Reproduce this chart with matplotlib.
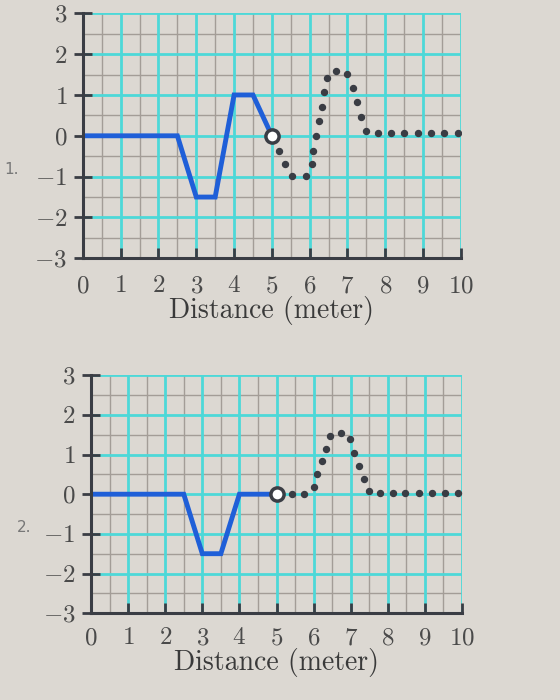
import numpy as np
import matplotlib.pyplot as plt

plt.rcParams['font.family'] = 'cmr10'
plt.rcParams['mathtext.fontset'] = 'cm'
plt.rcParams['axes.formatter.use_mathtext'] = True

# chart 1: solid pulse and dotted continuation
solid1_x = [0, 2.5, 3.0, 3.5, 4.0, 4.5, 5.0]
solid1_y = [0, 0, -1.5, -1.5, 1.0, 1.0, 0]
dots1_x = [5.2, 5.35, 5.54, 5.89, 6.05, 6.1, 6.17, 6.25, 6.32, 6.38, 6.45, 6.7,
           7.0, 7.14, 7.24, 7.35, 7.48, 7.8, 8.15, 8.5, 8.86, 9.21, 9.56, 9.93]
dots1_y = [-0.38, -0.69, -0.99, -0.99, -0.69, -0.37, 0.0, 0.37, 0.71, 1.08, 1.42, 1.59,
           1.51, 1.16, 0.82, 0.47, 0.12, 0.07, 0.07, 0.07, 0.07, 0.07, 0.07, 0.07]

# chart 2
solid2_x = [0, 2.5, 3.0, 3.5, 4.0, 5.0]
solid2_y = [0, 0, -1.5, -1.5, 0, 0]
dots2_x = [5.41, 5.75, 6.0, 6.1, 6.22, 6.34, 6.45, 6.74, 6.99, 7.1, 7.23, 7.35, 7.48,
           7.8, 8.14, 8.47, 8.83, 9.19, 9.55, 9.89]
dots2_y = [0.0, 0.0, 0.18, 0.5, 0.83, 1.13, 1.47, 1.54, 1.38, 1.05, 0.71, 0.39, 0.07,
           0.03, 0.03, 0.03, 0.03, 0.03, 0.03, 0.03]

bg = '#dcd8d2'
cyan = '#4dd8d8'
grey = '#a39d97'
ink = '#3a3d44'
blue = '#1f5fd8'

fig = plt.figure(figsize=(5.6, 7), dpi=100, facecolor=bg)


def draw(ax, sx, sy, dx, dy, xpad):
    ax.set_facecolor(bg)
    ax.set_xlim(0, 10)
    ax.set_ylim(-3, 3)
    for v in np.arange(0.5, 10, 1):
        ax.axvline(v, color=grey, lw=1.0, zorder=1)
    for v in np.arange(-2.5, 3, 1):
        ax.axhline(v, color=grey, lw=1.0, zorder=1)
    for v in range(1, 11):
        ax.axvline(v, color=cyan, lw=2.0, zorder=1.5)
    for v in range(-2, 4):
        ax.axhline(v, color=cyan, lw=2.0, zorder=1.5)
    ax.plot(sx, sy, color=blue, lw=3.5, solid_joinstyle='miter', zorder=3)
    ax.plot(dx, dy, 'o', color=ink, ms=4.3, zorder=3)
    ax.plot([5], [0], 'o', ms=9.5, mfc='white', mec=ink, mew=2.5, zorder=4)
    for s in ['top', 'right']:
        ax.spines[s].set_visible(False)
    for s in ['left', 'bottom']:
        ax.spines[s].set_color(ink)
        ax.spines[s].set_linewidth(2.2)
        ax.spines[s].set_zorder(5)
    ax.set_xticks(range(0, 11))
    ax.set_yticks(range(-3, 4))
    ax.tick_params(axis='x', direction='in', length=7, width=2, color=ink,
                   labelsize=18, labelcolor='#4a4a4a', pad=xpad)
    ax.tick_params(axis='y', direction='inout', length=12.5, width=2, color=ink,
                   labelsize=18, labelcolor='#4a4a4a', pad=5)
    ax.set_xlabel('Distance (meter)', fontsize=20, color='#3a3a3a', labelpad=-1)


ax1 = fig.add_axes([0.148, 0.631, 0.675, 0.35])
draw(ax1, solid1_x, solid1_y, dots1_x, dots1_y, 12)
ax2 = fig.add_axes([0.1625, 0.124, 0.6625, 0.34])
draw(ax2, solid2_x, solid2_y, dots2_x, dots2_y, 10)

fig.text(0.008, 1 - 170 / 700, '1.', fontsize=11, color='#777777',
         family='DejaVu Sans', ha='left', va='center')
fig.text(0.03, 1 - 528 / 700, '2.', fontsize=11, color='#777777',
         family='DejaVu Sans', ha='left', va='center')

fig.savefig('out.png', dpi=100, facecolor=bg)
